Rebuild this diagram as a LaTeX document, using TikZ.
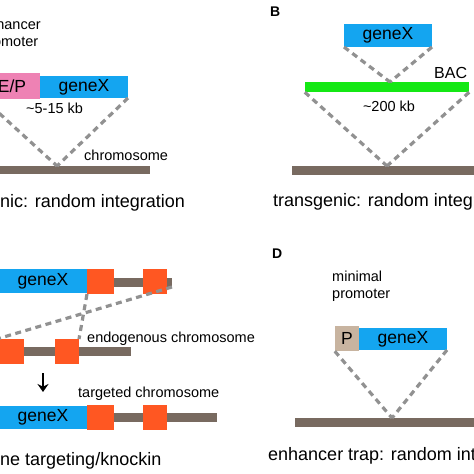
\documentclass[tikz,border=0pt]{standalone}
\usepackage{fontspec}
\setmainfont{Liberation Sans}
\usetikzlibrary{arrows.meta}

\definecolor{genblue}{RGB}{20,165,240}
\definecolor{eppink}{RGB}{238,130,180}
\definecolor{chrbrown}{RGB}{120,106,96}
\definecolor{exonorange}{RGB}{255,87,34}
\definecolor{bacgreen}{RGB}{20,232,20}
\definecolor{promtan}{RGB}{200,180,160}
\definecolor{dashgray}{RGB}{145,145,145}

\newcommand{\lblfont}{\fontsize{14.5}{17}\selectfont}
\newcommand{\genefont}{\fontsize{17.5}{20}\selectfont}
\newcommand{\capfont}{\fontsize{18}{21}\selectfont}
\newcommand{\panelfont}{\fontsize{14}{16}\selectfont\bfseries}

\tikzset{
    bar/.style={fill=chrbrown, inner sep=0pt, outer sep=0pt, minimum height=9pt},
    gene/.style={fill=genblue, inner sep=0pt, outer sep=0pt, minimum width=88pt, minimum height=23pt, font=\genefont},
    exon/.style={fill=exonorange, inner sep=0pt, outer sep=0pt, minimum width=27pt, minimum height=25pt},
    link/.style={draw=dashgray, line width=3.2pt, dash pattern=on 6pt off 4.5pt},
    lbl/.style={inner sep=0pt, anchor=base west, font=\lblfont, align=left},
    caption/.style={inner sep=0pt, anchor=base west, font=\capfont},
    panel/.style={inner sep=0pt, anchor=base west, font=\panelfont}
}

\begin{document}
\begin{tikzpicture}[x=1pt, y=-1pt]
    \useasboundingbox (0,0) rectangle (474,474);
    \clip (0,0) rectangle (474,474);

    % Panel A
    \node[bar, minimum width=210pt, minimum height=8pt] (chromA) at (45,170) {};
    \node[fill=eppink, inner sep=0pt, minimum width=56pt, minimum height=26pt, font=\genefont] (ep) at (12,86) {E/P};
    \node[gene, minimum height=22pt] (geneA) at (84,87) {geneX};
    \coordinate (insA) at (57,166);
    \draw[link] (ep.south west) -- (insA);
    \draw[link] (geneA.south east) -- (insA);
    \node[lbl] (lblEP) at (-20,46) {enhancer\\promoter};
    \node[lbl] (lblKbA) at (26,113) {\textasciitilde 5-15 kb};
    \node[lbl] (lblChromA) at (84,160) {chromosome};
    \node[caption] (capA) at (-60,207) {transgenic: random integration};

    % Panel B
    \node[panel] (panB) at (270,16) {B};
    \node[bar, minimum width=208pt] (chromB) at (396,170.5) {};
    \node[fill=bacgreen, inner sep=0pt, minimum width=164pt, minimum height=10pt] (bac) at (387,87) {};
    \node[gene] (geneB) at (388,35.5) {geneX};
    \coordinate (insBac) at (390,82);
    \coordinate (insB) at (387,166);
    \draw[link] (geneB.south west) -- (insBac);
    \draw[link] (geneB.south east) -- (insBac);
    \draw[link] (bac.south west) -- (insB);
    \draw[link] (bac.south east) -- (insB);
    \node[lbl, font=\fontsize{16}{19}\selectfont] (lblBac) at (434,78) {BAC};
    \node[lbl, anchor=base] (lblKbB) at (389,111) {\textasciitilde 200 kb};
    \node[caption] (capB) at (273,206) {transgenic: random integration};

    % Panel C
    \node[bar, minimum width=85pt] (barTop) at (129.5,282.5) {};
    \node[exon] (exTop1) at (100.5,281.5) {};
    \node[exon, minimum width=24pt] (exTop2) at (155,281.5) {};
    \node[gene, minimum height=24pt] (geneCtop) at (43,281) {geneX};

    \node[bar, minimum width=131pt] (barMid) at (65.5,351.5) {};
    \node[exon] (exMid1) at (10.5,351.5) {};
    \node[exon, minimum width=24pt] (exMid2) at (67,351.5) {};
    \draw[link] (exTop1.south west) -- (exMid2.north east);
    \draw[link] (barTop.south east) -- (exMid1.north west);
    \node[lbl] (lblEndo) at (87,342) {endogenous chromosome};

    \coordinate (arrTop) at (43,373);
    \coordinate (arrBot) at (43,392);
    \draw[-{Stealth[length=8pt, width=11pt]}, line width=2.5pt] (arrTop) -- (arrBot);

    \node[lbl] (lblTarg) at (78,397) {targeted chromosome};
    \node[bar, minimum width=130pt] (barBot) at (152,417.5) {};
    \node[exon] (exBot1) at (100.5,417.5) {};
    \node[exon, minimum width=24pt] (exBot2) at (155,417.5) {};
    \node[gene] (geneCbot) at (43,417.5) {geneX};
    \node[caption] (capC) at (-20,465) {gene targeting/knockin};

    % Panel D
    \node[panel] (panD) at (272,258) {D};
    \node[bar, minimum width=205pt] (chromD) at (397.5,422.5) {};
    \node[fill=promtan, inner sep=0pt, minimum width=24pt, minimum height=25pt, font=\genefont] (prom) at (347,338.5) {P};
    \node[gene, minimum height=22pt] (geneD) at (403,339) {geneX};
    \coordinate (insD) at (392,418);
    \draw[link] (prom.south west) -- (insD);
    \draw[link] (geneD.south east) -- (insD);
    \node[lbl] (lblMin) at (332,298) {minimal\\promoter};
    \node[caption] (capD) at (268,460) {enhancer trap: random integration};

\end{tikzpicture}
\end{document}
